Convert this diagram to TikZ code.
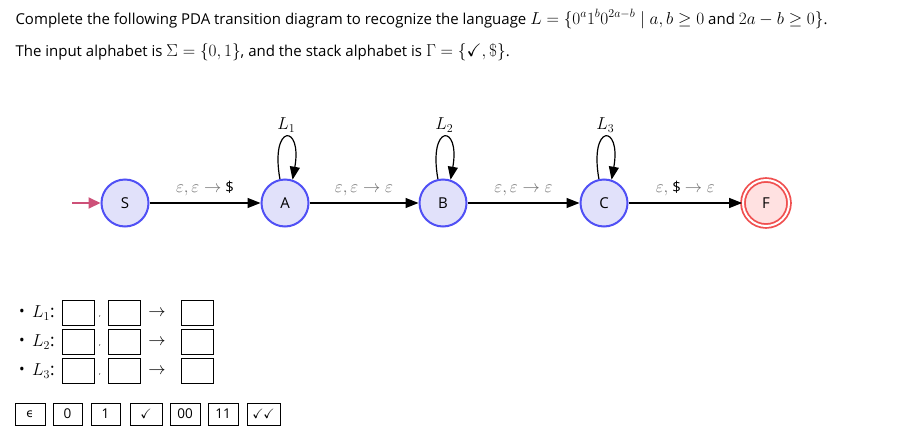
\documentclass[tikz,border=0pt]{standalone}
\usepackage{amsmath,amssymb}
\usepackage{fontspec}
\setmainfont{Open Sans}
\newfontfamily\dvs{DejaVu Sans}
\DeclareMathSizes{15}{18}{13}{10}
\DeclareMathSizes{17}{18}{13}{10}
\usetikzlibrary{arrows.meta}
\definecolor{stblue}{RGB}{80,80,245}
\definecolor{stfill}{RGB}{225,225,250}
\definecolor{fred}{RGB}{240,80,80}
\definecolor{ffill}{RGB}{255,225,225}
\definecolor{lbl}{RGB}{110,110,110}
\definecolor{startc}{RGB}{205,80,120}
\begin{document}
\begin{tikzpicture}[x=1pt,y=-1pt,font=\fontsize{15}{16}\selectfont,
 state/.style={circle,draw=stblue,line width=2pt,fill=stfill,minimum size=47pt,inner sep=0pt,font=\fontsize{15}{16}\selectfont},
 fin/.style={circle,draw=fred,line width=1.8pt,fill=ffill,minimum size=46pt,inner sep=0pt,double=white,double distance=2pt,font=\fontsize{15}{16}\selectfont},
 tr/.style={-{Triangle[length=13pt,width=10pt]},line width=1.2pt},
 el/.style={above=3pt,text=lbl,font=\fontsize{15}{16}\selectfont},
 ansbox/.style={draw,line width=0.9pt,minimum width=32pt,minimum height=25pt,inner sep=0pt},
 chip/.style={draw,line width=0.9pt,minimum height=22pt,inner sep=0pt,font=\fontsize{13.5}{14}\selectfont}]
\useasboundingbox (0,0) rectangle (920,434);
\node[anchor=west] (t1) at (12,19) {Complete the following PDA transition diagram to recognize the language $L=\{0^a1^b0^{2a-b}\mid a,b\geq 0 \text{ and } 2a-b\geq 0\}$.};
\node[anchor=west] (t2) at (12,52) {The input alphabet is $\Sigma=\{0,1\}$, and the stack alphabet is $\Gamma=\{\checkmark,\$\}$.};
\node[state] (S) at (125,203) {S};
\node[state] (A) at (285,203) {A};
\node[state] (B) at (443,203) {B};
\node[state] (C) at (604,203) {C};
\node[fin] (F) at (766,203) {F};
\coordinate (in) at (72,203);
\draw[-{Triangle[length=12pt,width=11pt]},startc,line width=2pt] (in) -- (S);
\draw[tr] (S) -- node[el]{$\varepsilon,\varepsilon\rightarrow$ \textcolor{black}{\$}} (A);
\draw[tr] (A) -- node[el]{$\varepsilon,\varepsilon\rightarrow\varepsilon$} (B);
\draw[tr] (B) -- node[el]{$\varepsilon,\varepsilon\rightarrow\varepsilon$} (C);
\draw[tr] (C) -- node[el]{$\varepsilon,$ \textcolor{black}{\$} $\rightarrow\varepsilon$} (F);
\foreach \n/\l in {A/L_1,B/L_2,C/L_3}{
 \draw[tr] (\n.102) .. controls +(-10,-56) and +(10,-56) .. node[above=1pt,font=\fontsize{15}{16}\selectfont]{$\l$} (\n.72);
}
\foreach \i/\y in {1/313,2/342,3/371}{
 \node (b\i) at (22,\y) {\textbullet};
 \node[anchor=west,font=\fontsize{17}{17}\selectfont,inner sep=0pt] (l\i) at (32,\y) {$L_\i$:};
 \node[ansbox] (x\i) at (78,\y) {};
 \node (c\i) at (100,\y+4) {\scriptsize ,};
 \node[ansbox] (y\i) at (124,\y) {};
 \node (r\i) at (157,\y) {$\rightarrow$};
 \node[ansbox] (z\i) at (197,\y) {};
}
\node[chip,minimum width=30pt] (k1) at (30,414) {{\dvs\fontsize{12}{12}\selectfont ϵ}};
\node[chip,minimum width=29pt] (k2) at (67.5,414) {0};
\node[chip,minimum width=29pt] (k3) at (105.5,414) {1};
\node[chip,minimum width=32pt] (k4) at (146,414) {$\checkmark$};
\node[chip,minimum width=30pt] (k5) at (185,414) {00};
\node[chip,minimum width=30pt] (k6) at (223,414) {11};
\node[chip,minimum width=33pt] (k7) at (263.5,414) {$\checkmark\checkmark$};
\end{tikzpicture}
\end{document}
